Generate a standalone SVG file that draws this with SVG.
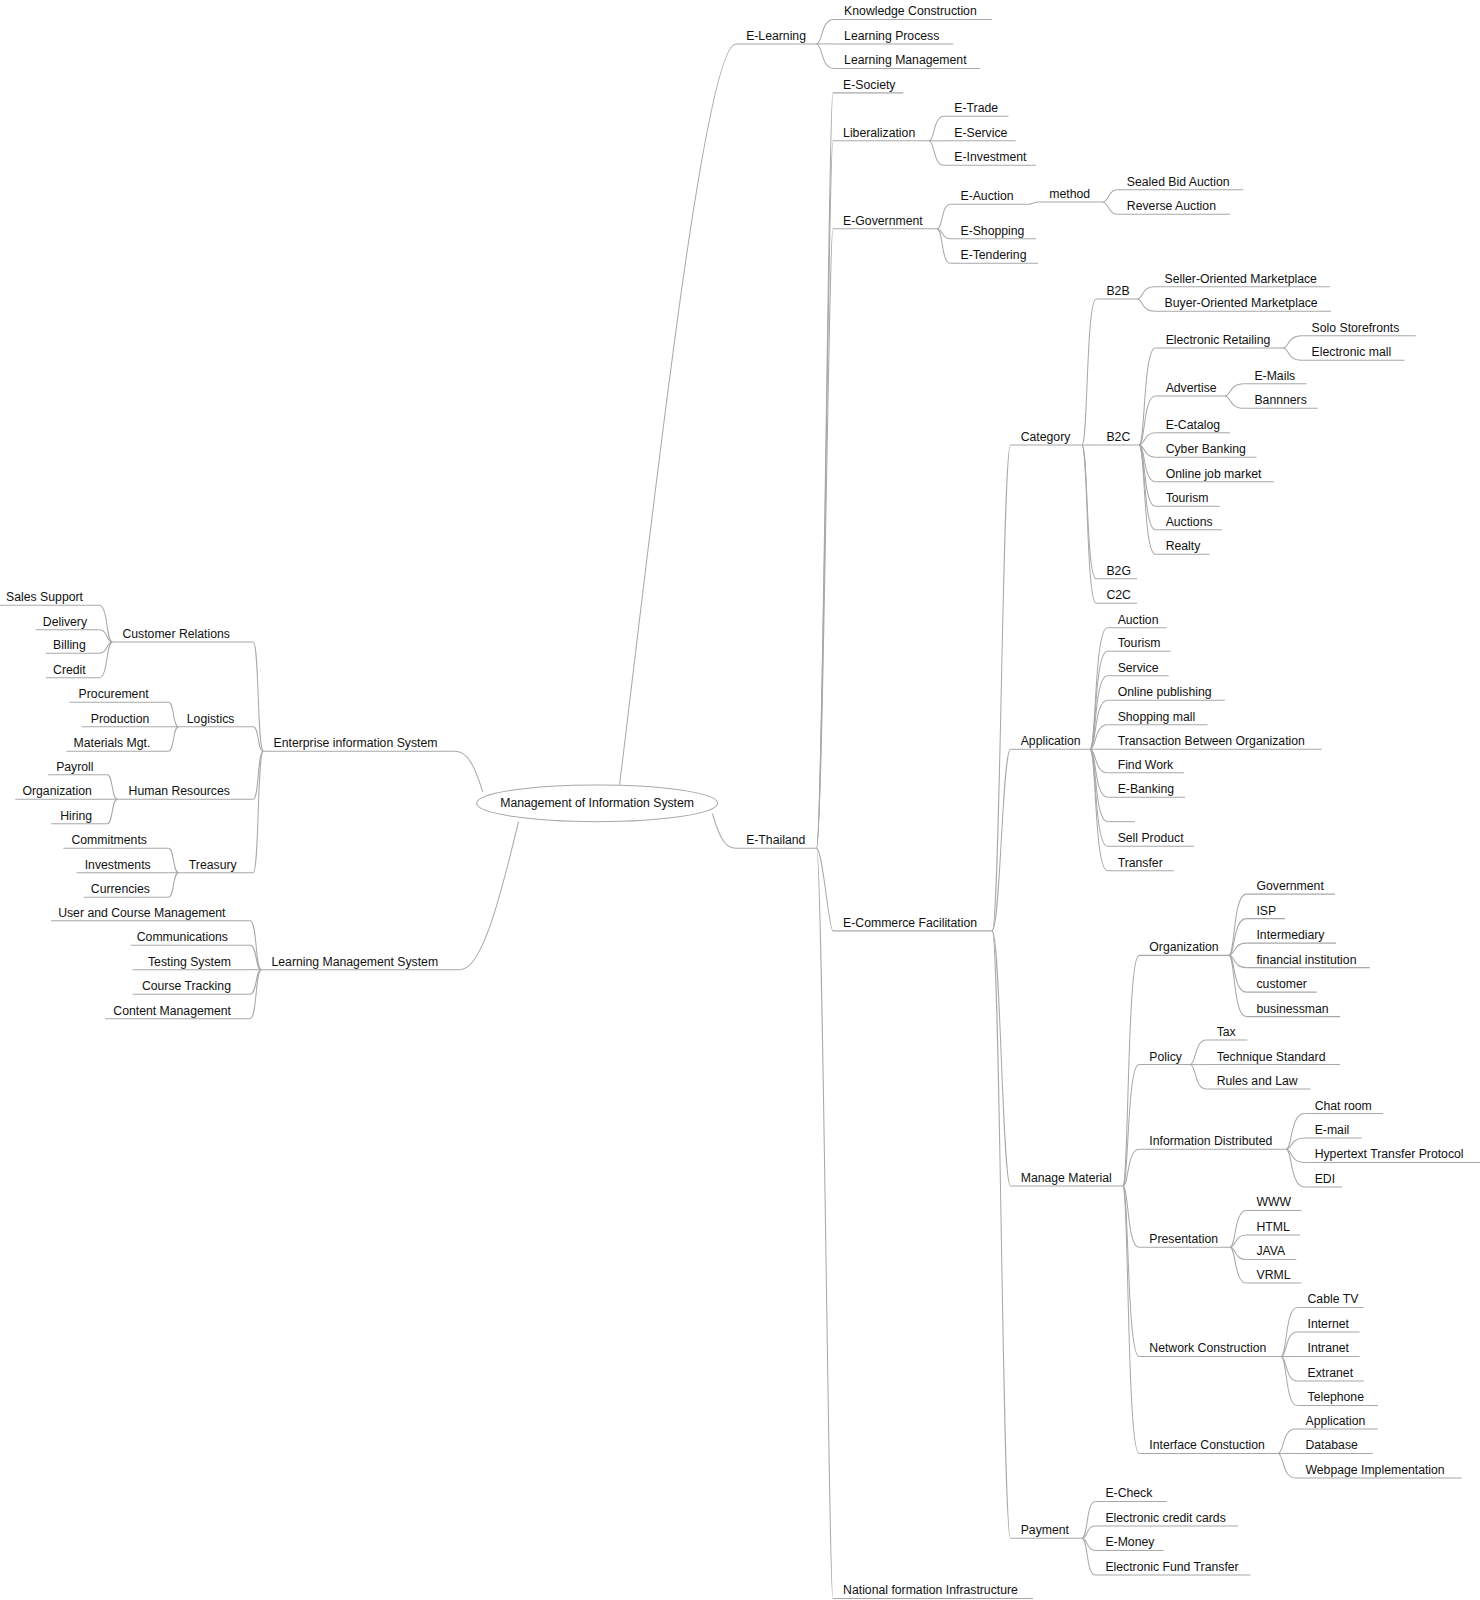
<svg xmlns="http://www.w3.org/2000/svg" width="1480" height="1600" viewBox="0 0 1480 1600">
<style>
text{font-family:"Liberation Sans",Arial,sans-serif;font-size:12px;fill:#111}
.c path,line{stroke:#a8a8a8;stroke-width:1;fill:none}
</style>
<rect width="1480" height="1600" fill="#fff"/>
<g transform="scale(1.0207)">
<g id="root"><ellipse cx="585" cy="787" rx="118" ry="18" fill="#fff" stroke="#a8a8a8"/><text x="585" y="791" text-anchor="middle">Management of  Information System</text></g>
<g class="c" id="connectors">
<path d="M607,769 C640,500 690,43 721,43"/>
<path d="M698,797 C706,825 712,831 721,831"/>
<path d="M473,776 C465,750 458,736 446,736"/>
<path d="M508,805 C490,880 472,950 451,950"/>
<!-- E-Learning -->
<path d="M800,43 C806,43 804,19 817,19"/><path d="M800,43 C806,43 804,43 817,43"/><path d="M800,43 C806,43 804,67 817,67"/>
<!-- E-Thailand -->
<path d="M800,831 C806,831 812,91 816,91"/><path d="M800,831 C806,831 812,138 816,138"/><path d="M800,831 C806,831 812,224 816,224"/><path d="M800,831 C806,831 812,912 816,912"/><path d="M800,831 C806,831 812,1566 816,1566"/>
<!-- Liberalization -->
<path d="M910,138 C916,138 914,114 925,114"/><path d="M910,138 C916,138 914,138 925,138"/><path d="M910,138 C916,138 914,162 925,162"/>
<!-- E-Government -->
<path d="M918,224 C924,224 922,200 931,200"/><path d="M918,224 C924,224 922,234 931,234"/><path d="M918,224 C924,224 922,258 931,258"/>
<path d="M1008,200 C1012,200 1012,198 1018,198"/>
<path d="M1080,198 C1086,198 1086,186 1094,186"/><path d="M1080,198 C1086,198 1086,210 1094,210"/>
<!-- E-Commerce Facilitation -->
<path d="M972,912 C980,912 982,436 990,436"/><path d="M972,912 C980,912 982,734 990,734"/><path d="M972,912 C980,912 982,1162 990,1162"/><path d="M972,912 C980,912 982,1507 990,1507"/>
<!-- Category -->
<path d="M1060,436 C1066,436 1064,293 1074,293"/><path d="M1060,436 C1066,436 1064,436 1074,436"/><path d="M1060,436 C1066,436 1064,567 1074,567"/><path d="M1060,436 C1066,436 1064,591 1074,591"/>
<path d="M1114,293 C1120,293 1118,281 1131,281"/><path d="M1114,293 C1120,293 1118,305 1131,305"/>
<path d="M1116,436 C1122,436 1120,341 1132,341"/><path d="M1116,436 C1122,436 1120,388 1132,388"/><path d="M1116,436 C1122,436 1120,424 1132,424"/><path d="M1116,436 C1122,436 1120,448 1132,448"/><path d="M1116,436 C1122,436 1120,472 1132,472"/><path d="M1116,436 C1122,436 1120,496 1132,496"/><path d="M1116,436 C1122,436 1120,519 1132,519"/><path d="M1116,436 C1122,436 1120,543 1132,543"/>
<path d="M1257,341 C1263,341 1261,329 1275,329"/><path d="M1257,341 C1263,341 1261,353 1275,353"/>
<path d="M1200,388 C1206,388 1204,376 1219,376"/><path d="M1200,388 C1206,388 1204,400 1219,400"/>
<!-- Application -->
<path d="M1068,734 C1074,734 1072,615 1085,615"/><path d="M1068,734 C1074,734 1072,638 1085,638"/><path d="M1068,734 C1074,734 1072,662 1085,662"/><path d="M1068,734 C1074,734 1072,686 1085,686"/><path d="M1068,734 C1074,734 1072,710 1085,710"/><path d="M1068,734 C1074,734 1072,734 1085,734"/><path d="M1068,734 C1074,734 1072,757 1085,757"/><path d="M1068,734 C1074,734 1072,781 1085,781"/><path d="M1068,734 C1074,734 1072,805 1085,805"/><path d="M1068,734 C1074,734 1072,829 1085,829"/><path d="M1068,734 C1074,734 1072,853 1085,853"/>
<!-- Manage Material -->
<path d="M1100,1162 C1106,1162 1104,936 1116,936"/><path d="M1100,1162 C1106,1162 1104,1043 1116,1043"/><path d="M1100,1162 C1106,1162 1104,1126 1116,1126"/><path d="M1100,1162 C1106,1162 1104,1222 1116,1222"/><path d="M1100,1162 C1106,1162 1104,1329 1116,1329"/><path d="M1100,1162 C1106,1162 1104,1424 1116,1424"/>
<path d="M1204,936 C1210,936 1208,876 1221,876"/><path d="M1204,936 C1210,936 1208,900 1221,900"/><path d="M1204,936 C1210,936 1208,924 1221,924"/><path d="M1204,936 C1210,936 1208,948 1221,948"/><path d="M1204,936 C1210,936 1208,972 1221,972"/><path d="M1204,936 C1210,936 1208,996 1221,996"/>
<path d="M1166,1043 C1172,1043 1170,1019 1182,1019"/><path d="M1166,1043 C1172,1043 1170,1043 1182,1043"/><path d="M1166,1043 C1172,1043 1170,1067 1182,1067"/>
<path d="M1260,1126 C1266,1126 1264,1091 1278,1091"/><path d="M1260,1126 C1266,1126 1264,1115 1278,1115"/><path d="M1260,1126 C1266,1126 1264,1139 1278,1139"/><path d="M1260,1126 C1266,1126 1264,1163 1278,1163"/>
<path d="M1205,1222 C1211,1222 1209,1186 1221,1186"/><path d="M1205,1222 C1211,1222 1209,1210 1221,1210"/><path d="M1205,1222 C1211,1222 1209,1234 1221,1234"/><path d="M1205,1222 C1211,1222 1209,1257 1221,1257"/>
<path d="M1255,1329 C1261,1329 1259,1281 1271,1281"/><path d="M1255,1329 C1261,1329 1259,1305 1271,1305"/><path d="M1255,1329 C1261,1329 1259,1329 1271,1329"/><path d="M1255,1329 C1261,1329 1259,1353 1271,1353"/><path d="M1255,1329 C1261,1329 1259,1377 1271,1377"/>
<path d="M1252,1424 C1258,1424 1256,1400 1269,1400"/><path d="M1252,1424 C1258,1424 1256,1424 1269,1424"/><path d="M1252,1424 C1258,1424 1256,1448 1269,1448"/>
<!-- Payment -->
<path d="M1060,1507 C1066,1507 1064,1471 1073,1471"/><path d="M1060,1507 C1066,1507 1064,1495 1073,1495"/><path d="M1060,1507 C1066,1507 1064,1519 1073,1519"/><path d="M1060,1507 C1066,1507 1064,1543 1073,1543"/>
<!-- Left: Enterprise -->
<path d="M258,736 C252,736 254,629 248,629"/><path d="M258,736 C252,736 254,712 248,712"/><path d="M258,736 C252,736 254,783 248,783"/><path d="M258,736 C252,736 254,855 248,855"/>
<path d="M110,629 C104,629 106,593 97,593"/><path d="M110,629 C104,629 106,617 97,617"/><path d="M110,629 C104,629 106,640 97,640"/><path d="M110,629 C104,629 106,664 97,664"/>
<path d="M175,712 C169,712 171,688 165,688"/><path d="M175,712 C169,712 171,712 165,712"/><path d="M175,712 C169,712 171,736 165,736"/>
<path d="M115,783 C109,783 111,759 105,759"/><path d="M115,783 C109,783 111,783 105,783"/><path d="M115,783 C109,783 111,807 105,807"/>
<path d="M175,855 C169,855 171,831 165,831"/><path d="M175,855 C169,855 171,855 165,855"/><path d="M175,855 C169,855 171,879 165,879"/>
<path d="M256,950 C250,950 252,902 245,902"/><path d="M256,950 C250,950 252,926 245,926"/><path d="M256,950 C250,950 252,950 245,950"/><path d="M256,950 C250,950 252,974 245,974"/><path d="M256,950 C250,950 252,998 245,998"/>
</g>
<!-- nodes right -->
<g id="n-elearning"><text x="731" y="39">E-Learning</text><line x1="721" y1="43" x2="800" y2="43"/></g>
<g id="n-kc"><text x="827" y="15">Knowledge Construction</text><line x1="817" y1="19" x2="972" y2="19"/></g>
<g id="n-lp"><text x="827" y="39">Learning Process</text><line x1="817" y1="43" x2="934" y2="43"/></g>
<g id="n-lm"><text x="827" y="63">Learning Management</text><line x1="817" y1="67" x2="960" y2="67"/></g>
<g id="n-ethai"><text x="731" y="827">E-Thailand</text><line x1="721" y1="831" x2="800" y2="831"/></g>
<g id="n-esoc"><text x="826" y="87">E-Society</text><line x1="816" y1="91" x2="885" y2="91"/></g>
<g id="n-lib"><text x="826" y="134">Liberalization</text><line x1="816" y1="138" x2="910" y2="138"/></g>
<g id="n-etrade"><text x="935" y="110">E-Trade</text><line x1="925" y1="114" x2="988" y2="114"/></g>
<g id="n-eserv"><text x="935" y="134">E-Service</text><line x1="925" y1="138" x2="995" y2="138"/></g>
<g id="n-einv"><text x="935" y="158">E-Investment</text><line x1="925" y1="162" x2="1015" y2="162"/></g>
<g id="n-egov"><text x="826" y="220">E-Government</text><line x1="816" y1="224" x2="918" y2="224"/></g>
<g id="n-eauc"><text x="941" y="196">E-Auction</text><line x1="931" y1="200" x2="1008" y2="200"/></g>
<g id="n-method"><text x="1028" y="194">method</text><line x1="1018" y1="198" x2="1080" y2="198"/></g>
<g id="n-sba"><text x="1104" y="182">Sealed Bid Auction</text><line x1="1094" y1="186" x2="1218" y2="186"/></g>
<g id="n-ra"><text x="1104" y="206">Reverse Auction</text><line x1="1094" y1="210" x2="1205" y2="210"/></g>
<g id="n-eshop"><text x="941" y="230">E-Shopping</text><line x1="931" y1="234" x2="1015" y2="234"/></g>
<g id="n-etend"><text x="941" y="254">E-Tendering</text><line x1="931" y1="258" x2="1017" y2="258"/></g>
<g id="n-ecf"><text x="826" y="908">E-Commerce Facilitation</text><line x1="816" y1="912" x2="972" y2="912"/></g>
<g id="n-nfi"><text x="826" y="1562">National formation Infrastructure</text><line x1="816" y1="1566" x2="1012" y2="1566"/></g>
<g id="n-cat"><text x="1000" y="432">Category</text><line x1="990" y1="436" x2="1060" y2="436"/></g>
<g id="n-b2b"><text x="1084" y="289">B2B</text><line x1="1074" y1="293" x2="1114" y2="293"/></g>
<g id="n-som"><text x="1141" y="277">Seller-Oriented Marketplace</text><line x1="1131" y1="281" x2="1303" y2="281"/></g>
<g id="n-bom"><text x="1141" y="301">Buyer-Oriented Marketplace</text><line x1="1131" y1="305" x2="1304" y2="305"/></g>
<g id="n-b2c"><text x="1084" y="432">B2C</text><line x1="1074" y1="436" x2="1116" y2="436"/></g>
<g id="n-er"><text x="1142" y="337">Electronic Retailing</text><line x1="1132" y1="341" x2="1257" y2="341"/></g>
<g id="n-solo"><text x="1285" y="325">Solo Storefronts</text><line x1="1275" y1="329" x2="1387" y2="329"/></g>
<g id="n-emall"><text x="1285" y="349">Electronic mall</text><line x1="1275" y1="353" x2="1376" y2="353"/></g>
<g id="n-adv"><text x="1142" y="384">Advertise</text><line x1="1132" y1="388" x2="1200" y2="388"/></g>
<g id="n-emails"><text x="1229" y="372">E-Mails</text><line x1="1219" y1="376" x2="1280" y2="376"/></g>
<g id="n-ban"><text x="1229" y="396">Bannners</text><line x1="1219" y1="400" x2="1291" y2="400"/></g>
<g id="n-ecat"><text x="1142" y="420">E-Catalog</text><line x1="1132" y1="424" x2="1205" y2="424"/></g>
<g id="n-cyb"><text x="1142" y="444">Cyber Banking</text><line x1="1132" y1="448" x2="1231" y2="448"/></g>
<g id="n-ojm"><text x="1142" y="468">Online job market</text><line x1="1132" y1="472" x2="1248" y2="472"/></g>
<g id="n-tour1"><text x="1142" y="492">Tourism</text><line x1="1132" y1="496" x2="1195" y2="496"/></g>
<g id="n-aucs"><text x="1142" y="515">Auctions</text><line x1="1132" y1="519" x2="1197" y2="519"/></g>
<g id="n-realty"><text x="1142" y="539">Realty</text><line x1="1132" y1="543" x2="1185" y2="543"/></g>
<g id="n-b2g"><text x="1084" y="563">B2G</text><line x1="1074" y1="567" x2="1114" y2="567"/></g>
<g id="n-c2c"><text x="1084" y="587">C2C</text><line x1="1074" y1="591" x2="1114" y2="591"/></g>
<g id="n-app"><text x="1000" y="730">Application</text><line x1="990" y1="734" x2="1068" y2="734"/></g>
<g id="n-a1"><text x="1095" y="611">Auction</text><line x1="1085" y1="615" x2="1143" y2="615"/></g>
<g id="n-a2"><text x="1095" y="634">Tourism</text><line x1="1085" y1="638" x2="1147" y2="638"/></g>
<g id="n-a3"><text x="1095" y="658">Service</text><line x1="1085" y1="662" x2="1145" y2="662"/></g>
<g id="n-a4"><text x="1095" y="682">Online publishing</text><line x1="1085" y1="686" x2="1200" y2="686"/></g>
<g id="n-a5"><text x="1095" y="706">Shopping mall</text><line x1="1085" y1="710" x2="1183" y2="710"/></g>
<g id="n-a6"><text x="1095" y="730">Transaction Between Organization</text><line x1="1085" y1="734" x2="1295" y2="734"/></g>
<g id="n-a7"><text x="1095" y="753">Find Work</text><line x1="1085" y1="757" x2="1160" y2="757"/></g>
<g id="n-a8"><text x="1095" y="777">E-Banking</text><line x1="1085" y1="781" x2="1161" y2="781"/></g>
<g id="n-a9"><line x1="1085" y1="805" x2="1112" y2="805"/></g>
<g id="n-a10"><text x="1095" y="825">Sell Product</text><line x1="1085" y1="829" x2="1170" y2="829"/></g>
<g id="n-a11"><text x="1095" y="849">Transfer</text><line x1="1085" y1="853" x2="1150" y2="853"/></g>
<g id="n-mm"><text x="1000" y="1158">Manage Material</text><line x1="990" y1="1162" x2="1100" y2="1162"/></g>
<g id="n-org"><text x="1126" y="932">Organization</text><line x1="1116" y1="936" x2="1204" y2="936"/></g>
<g id="n-o1"><text x="1231" y="872">Government</text><line x1="1221" y1="876" x2="1308" y2="876"/></g>
<g id="n-o2"><text x="1231" y="896">ISP</text><line x1="1221" y1="900" x2="1259" y2="900"/></g>
<g id="n-o3"><text x="1231" y="920">Intermediary</text><line x1="1221" y1="924" x2="1309" y2="924"/></g>
<g id="n-o4"><text x="1231" y="944">financial institution</text><line x1="1221" y1="948" x2="1342" y2="948"/></g>
<g id="n-o5"><text x="1231" y="968">customer</text><line x1="1221" y1="972" x2="1290" y2="972"/></g>
<g id="n-o6"><text x="1231" y="992">businessman</text><line x1="1221" y1="996" x2="1313" y2="996"/></g>
<g id="n-pol"><text x="1126" y="1039">Policy</text><line x1="1116" y1="1043" x2="1166" y2="1043"/></g>
<g id="n-p1"><text x="1192" y="1015">Tax</text><line x1="1182" y1="1019" x2="1222" y2="1019"/></g>
<g id="n-p2"><text x="1192" y="1039">Technique Standard</text><line x1="1182" y1="1043" x2="1313" y2="1043"/></g>
<g id="n-p3"><text x="1192" y="1063">Rules and Law</text><line x1="1182" y1="1067" x2="1284" y2="1067"/></g>
<g id="n-id"><text x="1126" y="1122">Information Distributed</text><line x1="1116" y1="1126" x2="1260" y2="1126"/></g>
<g id="n-i1"><text x="1288" y="1087">Chat room</text><line x1="1278" y1="1091" x2="1355" y2="1091"/></g>
<g id="n-i2"><text x="1288" y="1111">E-mail</text><line x1="1278" y1="1115" x2="1334" y2="1115"/></g>
<g id="n-i3"><text x="1288" y="1135">Hypertext Transfer Protocol</text><line x1="1278" y1="1139" x2="1450" y2="1139"/></g>
<g id="n-i4"><text x="1288" y="1159">EDI</text><line x1="1278" y1="1163" x2="1315" y2="1163"/></g>
<g id="n-pres"><text x="1126" y="1218">Presentation</text><line x1="1116" y1="1222" x2="1205" y2="1222"/></g>
<g id="n-r1"><text x="1231" y="1182">WWW</text><line x1="1221" y1="1186" x2="1275" y2="1186"/></g>
<g id="n-r2"><text x="1231" y="1206">HTML</text><line x1="1221" y1="1210" x2="1274" y2="1210"/></g>
<g id="n-r3"><text x="1231" y="1230">JAVA</text><line x1="1221" y1="1234" x2="1270" y2="1234"/></g>
<g id="n-r4"><text x="1231" y="1253">VRML</text><line x1="1221" y1="1257" x2="1275" y2="1257"/></g>
<g id="n-nc"><text x="1126" y="1325">Network Construction</text><line x1="1116" y1="1329" x2="1255" y2="1329"/></g>
<g id="n-n1"><text x="1281" y="1277">Cable TV</text><line x1="1271" y1="1281" x2="1336" y2="1281"/></g>
<g id="n-n2"><text x="1281" y="1301">Internet</text><line x1="1271" y1="1305" x2="1332" y2="1305"/></g>
<g id="n-n3"><text x="1281" y="1325">Intranet</text><line x1="1271" y1="1329" x2="1332" y2="1329"/></g>
<g id="n-n4"><text x="1281" y="1349">Extranet</text><line x1="1271" y1="1353" x2="1336" y2="1353"/></g>
<g id="n-n5"><text x="1281" y="1373">Telephone</text><line x1="1271" y1="1377" x2="1350" y2="1377"/></g>
<g id="n-ic"><text x="1126" y="1420">Interface Constuction</text><line x1="1116" y1="1424" x2="1252" y2="1424"/></g>
<g id="n-f1"><text x="1279" y="1396">Application</text><line x1="1269" y1="1400" x2="1350" y2="1400"/></g>
<g id="n-f2"><text x="1279" y="1420">Database</text><line x1="1269" y1="1424" x2="1345" y2="1424"/></g>
<g id="n-f3"><text x="1279" y="1444">Webpage Implementation</text><line x1="1269" y1="1448" x2="1432" y2="1448"/></g>
<g id="n-pay"><text x="1000" y="1503">Payment</text><line x1="990" y1="1507" x2="1060" y2="1507"/></g>
<g id="n-y1"><text x="1083" y="1467">E-Check</text><line x1="1073" y1="1471" x2="1143" y2="1471"/></g>
<g id="n-y2"><text x="1083" y="1491">Electronic credit cards</text><line x1="1073" y1="1495" x2="1213" y2="1495"/></g>
<g id="n-y3"><text x="1083" y="1515">E-Money</text><line x1="1073" y1="1519" x2="1140" y2="1519"/></g>
<g id="n-y4"><text x="1083" y="1539">Electronic Fund Transfer</text><line x1="1073" y1="1543" x2="1225" y2="1543"/></g>
<!-- nodes left -->
<g id="n-eis"><text x="268" y="732">Enterprise information System</text><line x1="258" y1="736" x2="446" y2="736"/></g>
<g id="n-cr"><text x="120" y="625">Customer Relations</text><line x1="110" y1="629" x2="248" y2="629"/></g>
<g id="n-ss"><text x="6" y="589">Sales Support</text><line x1="0" y1="593" x2="97" y2="593"/></g>
<g id="n-del"><text x="42" y="613">Delivery</text><line x1="35" y1="617" x2="97" y2="617"/></g>
<g id="n-bil"><text x="52" y="636">Billing</text><line x1="45" y1="640" x2="97" y2="640"/></g>
<g id="n-cre"><text x="52" y="660">Credit</text><line x1="45" y1="664" x2="97" y2="664"/></g>
<g id="n-log"><text x="183" y="708">Logistics</text><line x1="175" y1="712" x2="248" y2="712"/></g>
<g id="n-proc"><text x="77" y="684">Procurement</text><line x1="68" y1="688" x2="165" y2="688"/></g>
<g id="n-prod"><text x="89" y="708">Production</text><line x1="80" y1="712" x2="165" y2="712"/></g>
<g id="n-mat"><text x="72" y="732">Materials Mgt.</text><line x1="65" y1="736" x2="165" y2="736"/></g>
<g id="n-hr"><text x="126" y="779">Human Resources</text><line x1="115" y1="783" x2="248" y2="783"/></g>
<g id="n-pay2"><text x="55" y="755">Payroll</text><line x1="47" y1="759" x2="105" y2="759"/></g>
<g id="n-org2"><text x="22" y="779">Organization</text><line x1="15" y1="783" x2="105" y2="783"/></g>
<g id="n-hir"><text x="59" y="803">Hiring</text><line x1="50" y1="807" x2="105" y2="807"/></g>
<g id="n-tre"><text x="185" y="851">Treasury</text><line x1="175" y1="855" x2="248" y2="855"/></g>
<g id="n-com"><text x="70" y="827">Commitments</text><line x1="62" y1="831" x2="165" y2="831"/></g>
<g id="n-inv"><text x="83" y="851">Investments</text><line x1="75" y1="855" x2="165" y2="855"/></g>
<g id="n-cur"><text x="89" y="875">Currencies</text><line x1="82" y1="879" x2="165" y2="879"/></g>
<g id="n-lms"><text x="266" y="946">Learning Management System</text><line x1="256" y1="950" x2="451" y2="950"/></g>
<g id="n-l1"><text x="57" y="898">User and Course Management</text><line x1="50" y1="902" x2="245" y2="902"/></g>
<g id="n-l2"><text x="134" y="922">Communications</text><line x1="128" y1="926" x2="245" y2="926"/></g>
<g id="n-l3"><text x="145" y="946">Testing System</text><line x1="130" y1="950" x2="245" y2="950"/></g>
<g id="n-l4"><text x="139" y="970">Course Tracking</text><line x1="130" y1="974" x2="245" y2="974"/></g>
<g id="n-l5"><text x="111" y="994">Content Management</text><line x1="103" y1="998" x2="245" y2="998"/></g>
</g>
</svg>
